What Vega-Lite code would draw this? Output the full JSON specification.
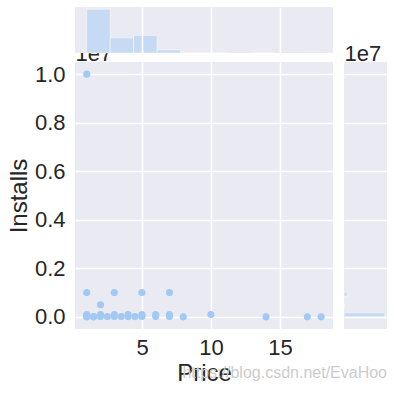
{
  "$schema": "https://vega.github.io/schema/vega-lite/v6.json",
  "padding": {"left": 7, "top": 7, "right": 0, "bottom": 0},
  "background": "white",
  "bounds": "flush",
  "spacing": {"row": 9, "column": 11},
  "columns": 2,
  "title": {"text": "https://blog.csdn.net/EvaHoo", "orient": "bottom", "anchor": "end", "color": "#cccccc", "fontSize": 16, "fontWeight": "normal", "font": "Liberation Sans", "offset": -20},
  "datasets": {
    "pts": [
      {"Price": 0.99, "Installs": 10000000},
      {"Price": 0.99, "Installs": 1000000},
      {"Price": 2.99, "Installs": 1000000},
      {"Price": 4.99, "Installs": 1000000},
      {"Price": 6.99, "Installs": 1000000},
      {"Price": 1.99, "Installs": 500000},
      {"Price": 0.99, "Installs": 100000},
      {"Price": 0.99, "Installs": 50000},
      {"Price": 0.99, "Installs": 10000},
      {"Price": 0.99, "Installs": 1000},
      {"Price": 1.49, "Installs": 10000},
      {"Price": 1.49, "Installs": 1000},
      {"Price": 1.99, "Installs": 100000},
      {"Price": 1.99, "Installs": 10000},
      {"Price": 2.49, "Installs": 10000},
      {"Price": 2.99, "Installs": 100000},
      {"Price": 2.99, "Installs": 10000},
      {"Price": 3.49, "Installs": 10000},
      {"Price": 3.99, "Installs": 100000},
      {"Price": 3.99, "Installs": 10000},
      {"Price": 4.49, "Installs": 10000},
      {"Price": 4.99, "Installs": 100000},
      {"Price": 4.99, "Installs": 50000},
      {"Price": 4.99, "Installs": 10000},
      {"Price": 5.99, "Installs": 100000},
      {"Price": 5.99, "Installs": 10000},
      {"Price": 6.99, "Installs": 100000},
      {"Price": 6.99, "Installs": 10000},
      {"Price": 7.99, "Installs": 1000},
      {"Price": 9.99, "Installs": 100000},
      {"Price": 13.99, "Installs": 1000},
      {"Price": 16.99, "Installs": 1000},
      {"Price": 17.99, "Installs": 1000}
    ],
    "xhist": [
      {"bin_start": 0.99, "bin_end": 2.69, "count": 87},
      {"bin_start": 2.69, "bin_end": 4.39, "count": 30},
      {"bin_start": 4.39, "bin_end": 6.09, "count": 35},
      {"bin_start": 6.09, "bin_end": 7.79, "count": 6},
      {"bin_start": 7.79, "bin_end": 9.49, "count": 1},
      {"bin_start": 9.49, "bin_end": 11.19, "count": 1},
      {"bin_start": 12.89, "bin_end": 14.59, "count": 1},
      {"bin_start": 16.29, "bin_end": 17.99, "count": 2}
    ],
    "yhist": [
      {"bin_start": 0, "bin_end": 169492, "count": 149},
      {"bin_start": 338983, "bin_end": 508475, "count": 1},
      {"bin_start": 847458, "bin_end": 1016949, "count": 12},
      {"bin_start": 9830508, "bin_end": 10000000, "count": 1}
    ]
  },
  "concat": [
    {
      "width": 258,
      "height": 46,
      "layer": [
        {
          "data": {"values": [{}]},
          "mark": {"type": "rect", "fill": "#EAEAF2"},
          "encoding": {
            "x": {"datum": 0.14, "type": "quantitative", "scale": {"domain": [0.14, 18.85], "nice": false, "zero": false},
                  "axis": {"orient": "bottom", "labels": false, "grid": false, "title": "1e7", "titleX": 0, "titleY": 7, "titleAlign": "left", "titleBaseline": "alphabetic", "titleFontSize": 22, "zindex": 0}},
            "x2": {"datum": 18.85},
            "y": {"datum": 0, "type": "quantitative", "scale": {"domain": [0, 91.35], "nice": false}, "axis": null},
            "y2": {"datum": 91.35}
          }
        },
        {
          "data": {"name": "xhist"},
          "mark": {"type": "rect", "fill": "#a1c9f4", "fillOpacity": 0.5, "stroke": "white", "strokeWidth": 0.6, "strokeOpacity": 0.8},
          "encoding": {
            "x": {"field": "bin_start", "type": "quantitative",
                  "axis": {"orient": "top", "labels": false, "title": null, "grid": true, "values": [5, 10, 15], "zindex": 1}},
            "x2": {"field": "bin_end"},
            "y": {"field": "count", "type": "quantitative", "axis": null},
            "y2": {"datum": 0}
          }
        }
      ],
      "resolve": {"axis": {"x": "independent"}}
    },
    {
      "width": 43,
      "height": 46,
      "data": {"values": []},
      "mark": "point",
      "encoding": {},
      "view": {"fill": null, "stroke": null}
    },
    {
      "width": 258,
      "height": 267,
      "data": {"name": "pts"},
      "mark": {"type": "point", "filled": true, "color": "#a1c9f4", "opacity": 1, "size": 50},
      "encoding": {
        "x": {"field": "Price", "type": "quantitative", "scale": {"domain": [0.14, 18.85], "nice": false, "zero": false},
              "axis": {"values": [5, 10, 15], "title": "Price"}},
        "y": {"field": "Installs", "type": "quantitative", "scale": {"domain": [-500000, 10500000], "nice": false, "zero": false},
              "axis": {"values": [0, 2000000, 4000000, 6000000, 8000000, 10000000], "labelExpr": "format(datum.value / 10000000, '.1f')", "title": "Installs"}}
      }
    },
    {
      "width": 43,
      "height": 267,
      "data": {"name": "yhist"},
      "mark": {"type": "rect", "fill": "#a1c9f4", "fillOpacity": 0.5, "stroke": "white", "strokeWidth": 0.6, "strokeOpacity": 0.8},
      "encoding": {
        "y": {"field": "bin_start", "type": "quantitative", "scale": {"domain": [-500000, 10500000], "nice": false, "zero": false},
              "axis": {"labels": false, "grid": true, "values": [0, 2000000, 4000000, 6000000, 8000000, 10000000], "title": "1e7", "titleAngle": 0, "titleX": 0, "titleY": -2, "titleAlign": "left", "titleBaseline": "alphabetic", "titleFontSize": 22}},
        "y2": {"field": "bin_end"},
        "x": {"field": "count", "type": "quantitative", "scale": {"domain": [0, 156.45], "nice": false}, "axis": null},
        "x2": {"datum": 0}
      }
    }
  ],
  "config": {
    "font": "Liberation Sans",
    "view": {"fill": "#EAEAF2", "stroke": null},
    "axis": {
      "domain": false,
      "ticks": false,
      "grid": true,
      "gridColor": "white",
      "gridWidth": 1.6,
      "gridOpacity": 1,
      "labelFont": "Liberation Sans",
      "labelFontSize": 22,
      "labelColor": "#262626",
      "titleFont": "Liberation Sans",
      "titleFontSize": 24,
      "titleFontWeight": "normal",
      "titleColor": "#262626",
      "titlePadding": 3
    },
    "axisX": {"labelPadding": 8},
    "axisY": {"labelPadding": 10}
  }
}
